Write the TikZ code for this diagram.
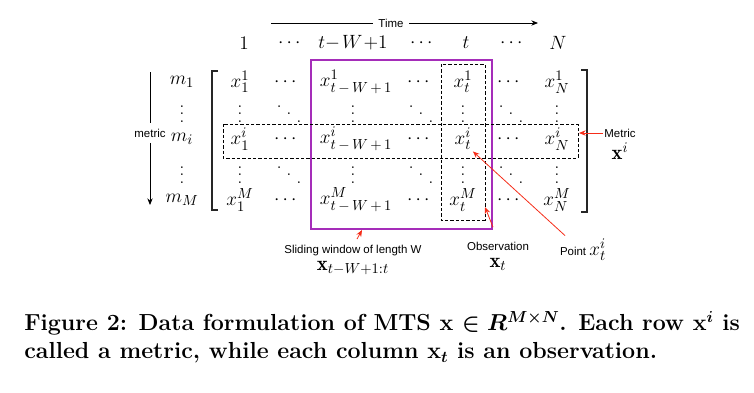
\documentclass[tikz,border=0pt]{standalone}
\usepackage{amsmath}
\usepackage{fontspec}
\setsansfont{Liberation Sans}
\usetikzlibrary{arrows.meta}
\definecolor{winpurple}{RGB}{165,45,185}
\definecolor{arrred}{RGB}{245,45,25}
\newcommand{\vdt}{\vbox{\baselineskip5.8pt\lineskiplimit0pt\hbox{.}\hbox{.}\hbox{.}}}
\newcommand{\ddt}{\mathinner{\raise11pt\hbox{.}\kern3.5pt\raise5.5pt\hbox{.}\kern3.5pt\hbox{.}}}
\begin{document}
\begin{tikzpicture}[x=0.75pt,y=-0.75pt,
  ent/.style={font=\fontsize{15.5}{18}\selectfont,inner sep=1pt},
  head/.style={font=\fontsize{14}{16}\selectfont,inner sep=1pt},
  lab/.style={font=\sffamily\fontsize{8.6}{10}\selectfont,inner sep=1pt},
  dbox/.style={dash pattern=on 2.4pt off 1.6pt,line width=0.6pt},
  redarr/.style={arrred,line width=0.6pt,-{Stealth[length=5pt,width=4pt]}}]
\useasboundingbox (0,0) rectangle (754,393);

% time axis
\node[lab,inner sep=4pt] (time) at (391,23) {Time};
\coordinate (tstart) at (271,23);
\coordinate (tend) at (538,23);
\draw[line width=0.6pt] (tstart) -- (time);
\draw[line width=0.6pt,-{Stealth[length=5pt,width=4pt]}] (time) -- (tend);

% column headers
\foreach \x/\h [count=\c] in {244/1,291/\cdots,353/{t{-}\mkern2mu W\mkern1mu{+}1},423/\cdots,466/t,513/\cdots,558/N}
  \node[head] (h\c) at (\x,43) {$\h$};

% row labels
\foreach \y/\m [count=\r] in {82/m_1,114/\vdt,139/m_i,175/\vdt,200/m_M}
  \node[ent] (m\r) at (182,\y) {$\m$};

% metric axis
\node[lab,inner sep=4pt] (metric) at (150,133) {metric};
\coordinate (mtop) at (150,72);
\coordinate (mbot) at (150,205);
\draw[line width=0.6pt] (mtop) -- (metric);
\draw[line width=0.6pt,-{Stealth[length=5pt,width=4pt]}] (metric) -- (mbot);

% matrix entries
\foreach \y/\rs [count=\r] in {82/1,139/i,200/M}{
  \foreach \x/\cs [count=\c] in {240/1,356/{t\,-\,W\,+\,1},463/t,557/N}
    \node[ent] (x\r\c) at (\x,\y) {$x^{\rs}_{\cs}$};
  \foreach \x [count=\c] in {287,420,510}
    \node[ent] (d\r\c) at (\x,\y) {$\cdots$};
}
\foreach \y [count=\r] in {114,175}{
  \foreach \x [count=\c] in {240,353,463,557}
    \node[ent] (v\r\c) at (\x,\y) {$\vdt$};
  \foreach \x [count=\c] in {289,421,511}
    \node[ent] (dd\r\c) at (\x,\y) {$\ddt$};
}

% brackets
\draw[black!85,line width=1pt] (218,71) -- (212,71) -- (212,210) -- (218,210);
\draw[black!85,line width=1pt] (581,70) -- (587,70) -- (587,212) -- (581,212);

% window, column and row
\draw[winpurple,line width=0.8pt] (311,60) rectangle (492,229);
\draw[dbox] (441,64) rectangle (485,220);
\draw[dbox] (223,124) rectangle (578,158);

% annotations
\node[lab] (metlab) at (620,133) {Metric};
\node[ent] (metx) at (620,151) {$\mathbf{x}^i$};
\coordinate (rowend) at (579,133);
\draw[redarr] (metlab) -- (rowend);

\node[lab] (slide) at (353,251) {Sliding window of length W};
\node[ent] (slidex) at (353,268) {$\mathbf{x}_{t-W+1:t}$};
\coordinate (winbot) at (362,230);
\draw[redarr] ([shift={(4,-5)}]slide.north) -- (winbot);

\node[lab] (obs) at (498,246) {Observation};
\node[ent] (obsx) at (498,264) {$\mathbf{x}_t$};
\coordinate (colend) at (485,207);
\draw[redarr] ([shift={(-5,-13)}]obs.north) -- (colend);

\node[lab] (pt) at (583,250) {Point {\fontsize{15.5}{18}\selectfont$x^i_t$}};
\draw[redarr] ([shift={(-18,-2)}]pt.north) -- (x23.south east);

% caption
\node[anchor=north west,align=left,inner sep=0pt,font=\bfseries\boldmath\fontsize{17.4}{21}\selectfont] (cap) at (24,311)
  {Figure 2: Data formulation of MTS x $\in R^{M\times N}$. Each row x$^i$ is\\
   called a metric, while each column x$_t$ is an observation.};
\end{tikzpicture}
\end{document}
